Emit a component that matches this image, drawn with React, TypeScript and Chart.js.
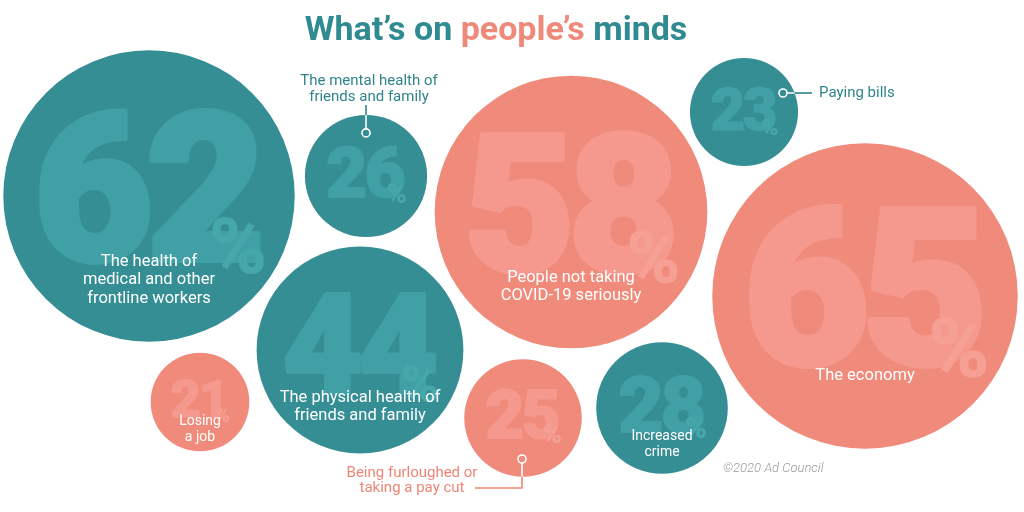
import { useEffect, useRef } from "react";
import { Chart, registerables } from "chart.js";

Chart.register(...registerables);

// Survey topics and the share of people who named each one (%)
const topics = [
  "The health of\nmedical and other\nfrontline workers",
  "The mental health of\nfriends and family",
  "People not taking\nCOVID-19 seriously",
  "Paying bills",
  "The economy",
  "The physical health of\nfriends and family",
  "Losing\na job",
  "Being furloughed or\ntaking a pay cut",
  "Increased\ncrime",
];
const shares = [62, 26, 58, 23, 65, 44, 21, 25, 28];
const tones = ["teal", "teal", "salmon", "teal", "salmon", "teal", "salmon", "salmon", "teal"];
const labelPlacement = ["inside", "above", "inside", "right", "inside", "inside", "inside", "belowLeft", "inside"];

const titleParts = [
  { text: "What’s on ", tone: "teal" },
  { text: "people’s", tone: "salmon" },
  { text: " minds", tone: "teal" },
];
const creditText = "©2020 Ad Council";

// Packed layout: bubble centres in page pixels
const bubbleLayout = [
  { x: 149, y: 196 },
  { x: 366, y: 176 },
  { x: 571, y: 212 },
  { x: 744, y: 112 },
  { x: 865, y: 296 },
  { x: 360, y: 350 },
  { x: 200, y: 402 },
  { x: 523, y: 418 },
  { x: 662, y: 408 },
];
const PX_PER_POINT = 2.35;

const palette: Record<string, { fill: string; ghost: string; pct: string; ink: string }> = {
  teal: { fill: "#368e95", ghost: "#40a0a5", pct: "#46a7ab", ink: "#2f848b" },
  salmon: { fill: "#f08b7b", ghost: "#f5998e", pct: "#f6a095", ink: "#ee8676" },
};

const FONT = "Roboto, 'Open Sans', sans-serif";

function drawCallout(ctx: CanvasRenderingContext2D, pts: number[][], cx: number, cy: number, r: number, outside: string) {
  const path = () => {
    ctx.beginPath();
    ctx.moveTo(pts[0][0], pts[0][1]);
    for (let k = 1; k < pts.length; k++) ctx.lineTo(pts[k][0], pts[k][1]);
  };
  ctx.save();
  ctx.lineWidth = 1.6;
  ctx.strokeStyle = outside;
  path();
  ctx.stroke();
  ctx.beginPath();
  ctx.arc(cx, cy, r, 0, Math.PI * 2);
  ctx.clip();
  ctx.strokeStyle = "#ffffff";
  path();
  ctx.stroke();
  ctx.restore();
}

function drawRing(ctx: CanvasRenderingContext2D, x: number, y: number) {
  ctx.save();
  ctx.beginPath();
  ctx.arc(x, y, 4, 0, Math.PI * 2);
  ctx.lineWidth = 1.6;
  ctx.strokeStyle = "#ffffff";
  ctx.stroke();
  ctx.restore();
}

const bubbleText = {
  id: "bubbleText",
  afterDatasetsDraw(chart: any) {
    const ctx: CanvasRenderingContext2D = chart.ctx;
    const meta = chart.getDatasetMeta(0);
    meta.data.forEach((el: any, i: number) => {
      const { x, y } = el.getProps(["x", "y"], true);
      const r: number = el.options.radius;
      const tone = palette[tones[i]];

      // Oversized value watermark, clipped to the bubble
      const capH = 1.14 * r - 19.5;
      const size = capH / 0.711;
      ctx.save();
      ctx.beginPath();
      ctx.arc(x, y, r, 0, Math.PI * 2);
      ctx.clip();
      ctx.fillStyle = tone.ghost;
      ctx.strokeStyle = tone.ghost;
      ctx.lineJoin = "round";
      ctx.font = `900 ${size}px ${FONT}`;
      (ctx as any).letterSpacing = `${-size * 0.035}px`;
      ctx.textAlign = "center";
      ctx.textBaseline = "alphabetic";
      const numX = x - 0.02 * r;
      const base = y - 0.05 * r + capH / 2 - size * 0.01;
      const num = String(shares[i]);
      ctx.lineWidth = size * 0.028;
      ctx.fillText(num, numX, base);
      ctx.strokeText(num, numX, base);
      const w = ctx.measureText(num).width;
      (ctx as any).letterSpacing = "0px";
      ctx.fillStyle = tone.pct;
      ctx.font = `900 ${size * 0.38}px ${FONT}`;
      ctx.textAlign = "right";
      const px = numX + w / 2 + 0.06 * r;
      const py = base + 0.09 * r;
      ctx.fillText("%", px, py);
      ctx.restore();

      const lines = topics[i].split("\n");
      const place = labelPlacement[i];
      if (place === "inside") {
        const fs = r > 90 ? 16.5 : 14;
        const lh = fs * 1.13;
        ctx.save();
        ctx.fillStyle = "#ffffff";
        ctx.font = `400 ${fs}px ${FONT}`;
        ctx.textAlign = "center";
        ctx.textBaseline = "middle";
        const mid = y + 0.55 * r + (lines.length - 2) * 4;
        lines.forEach((ln, k) => {
          ctx.fillText(ln, x, mid + (k - (lines.length - 1) / 2) * lh);
        });
        ctx.restore();
      } else if (place === "above") {
        const ringY = y - r + 18;
        drawCallout(ctx, [[x, ringY - 4], [x, y - r - 10]], x, y, r, tone.ink);
        drawRing(ctx, x, ringY);
        ctx.save();
        ctx.fillStyle = tone.ink;
        ctx.font = `400 15px ${FONT}`;
        ctx.textAlign = "center";
        ctx.textBaseline = "middle";
        lines.forEach((ln, k) => ctx.fillText(ln, x + 3, y - r - 34 + k * 16));
        ctx.restore();
      } else if (place === "right") {
        const rx = x + 39;
        const ry = y - 19;
        drawCallout(ctx, [[rx + 4, ry], [x + 68, ry]], x, y, r, tone.ink);
        drawRing(ctx, rx, ry);
        ctx.save();
        ctx.fillStyle = tone.ink;
        ctx.font = `400 15px ${FONT}`;
        ctx.textAlign = "left";
        ctx.textBaseline = "middle";
        ctx.fillText(lines[0], x + 75, ry);
        ctx.restore();
      } else if (place === "belowLeft") {
        const rx = x - 1;
        const ry = y + 41;
        drawCallout(ctx, [[rx, ry + 4], [rx, y + 70], [x - 48, y + 70]], x, y, r, tone.ink);
        drawRing(ctx, rx, ry);
        ctx.save();
        ctx.fillStyle = tone.ink;
        ctx.font = `400 15px ${FONT}`;
        ctx.textAlign = "center";
        ctx.textBaseline = "middle";
        lines.forEach((ln, k) => ctx.fillText(ln, x - 111, y + 55 + k * 15));
        ctx.restore();
      }
    });
  },
  afterDraw(chart: any) {
    const ctx: CanvasRenderingContext2D = chart.ctx;
    ctx.save();
    ctx.font = `bold 34px ${FONT}`;
    ctx.textBaseline = "alphabetic";
    ctx.textAlign = "left";
    const total = titleParts.reduce((s, p) => s + ctx.measureText(p.text).width, 0);
    let tx = 496 - total / 2;
    titleParts.forEach((p) => {
      ctx.fillStyle = p.tone === "teal" ? "#2f8a91" : "#ef8a7a";
      ctx.fillText(p.text, tx, 40);
      tx += ctx.measureText(p.text).width;
    });
    ctx.font = `italic 300 13px ${FONT}`;
    ctx.fillStyle = "#9a9a9a";
    ctx.textBaseline = "middle";
    ctx.fillText(creditText, 723, 469);
    ctx.restore();
  },
};

export default function App() {
  const canvasRef = useRef<HTMLCanvasElement | null>(null);

  useEffect(() => {
    if (!canvasRef.current) return;
    const chart = new Chart(canvasRef.current, {
      type: "bubble",
      data: {
        datasets: [
          {
            label: "Share of respondents",
            data: shares.map((v, i) => ({ x: bubbleLayout[i].x, y: bubbleLayout[i].y, r: v * PX_PER_POINT })),
            backgroundColor: tones.map((t) => palette[t].fill),
            borderWidth: 0,
            clip: false,
          },
        ],
      },
      options: {
        animation: false,
        responsive: false,
        maintainAspectRatio: false,
        devicePixelRatio: 1,
        layout: { padding: 0, autoPadding: false },
        scales: {
          x: { type: "linear", min: 0, max: 1024, display: false },
          y: { type: "linear", min: 0, max: 512, reverse: true, display: false },
        },
        plugins: {
          legend: { display: false },
          tooltip: { enabled: false },
          title: { display: false },
        },
        events: [],
      },
      plugins: [bubbleText],
    });
    return () => chart.destroy();
  }, []);

  return (
    <div style={{ position: "fixed", left: 0, top: 0, width: 1024, height: 512, background: "#ffffff" }}>
      <canvas ref={canvasRef} width={1024} height={512} style={{ display: "block", width: 1024, height: 512 }} />
    </div>
  );
}
